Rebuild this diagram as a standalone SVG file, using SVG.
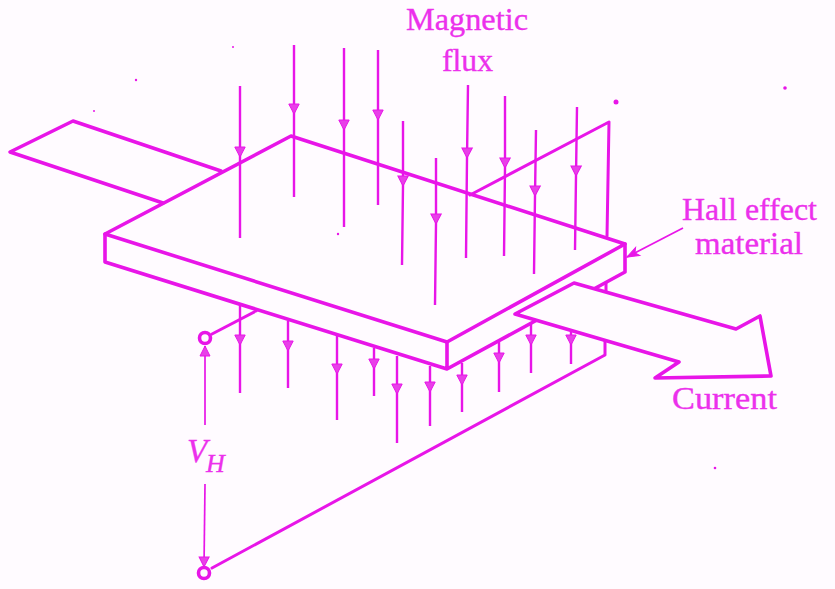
<svg xmlns="http://www.w3.org/2000/svg" width="835" height="589" viewBox="0 0 835 589">
<style>
.bg{fill:#fffbff}
.thick{fill:none;stroke:#e815e8;stroke-width:3.6;stroke-linejoin:round;stroke-linecap:round}
.mid{fill:none;stroke:#e815e8;stroke-width:3;stroke-linejoin:round;stroke-linecap:round}
.flux{fill:none;stroke:#e815e8;stroke-width:2.4;marker-mid:url(#head)}
.thin{fill:none;stroke:#e815e8;stroke-width:1.7}
.t{fill:#ec30ec;stroke:#ec30ec;stroke-width:.35;font-family:"Liberation Serif",serif;font-size:31px}
.speck{fill:#e815e8}
</style>
<defs>
<marker id="head" markerUnits="userSpaceOnUse" markerWidth="14" markerHeight="14" refX="12" refY="7" orient="auto" overflow="visible">
<path d="M2 1.8 L12 7 L2 12.2 Z" fill="#e840e8" stroke="#e815e8" stroke-width="1"/>
</marker>
<marker id="tipEnd" markerUnits="userSpaceOnUse" markerWidth="14" markerHeight="14" refX="12" refY="7" orient="auto" overflow="visible">
<path d="M2 2 L12 7 L2 12 Z" fill="#e840e8" stroke="#e815e8" stroke-width="1"/>
</marker>
<marker id="leaderHead" markerUnits="userSpaceOnUse" markerWidth="16" markerHeight="14" refX="14" refY="7" orient="auto" overflow="visible">
<path d="M2 2.5 L14 7 L2 11.5 L5 7 Z" fill="#e815e8" stroke="#e815e8" stroke-width="1"/>
</marker>
</defs>
<rect class="bg" width="835" height="589"/>
<g id="specks">
<circle class="speck" cx="616" cy="102" r="2.5"/>
<circle class="speck" cx="785" cy="88" r="1.8"/>
<circle class="speck" cx="136" cy="80" r="1.2"/>
<circle class="speck" cx="233" cy="47" r="1"/>
<circle class="speck" cx="94" cy="111" r="1"/>
<circle class="speck" cx="715" cy="468" r="1.3"/>
<circle class="speck" cx="338" cy="234" r="1.2"/>
</g>
<g id="left-tab"><path class="thick" d="M221 171 L73 121 L10 152 L163 203"/></g>
<g id="back-tab"><path class="mid" d="M470 195 L609 122 L607 236"/></g>
<g id="lower-tab"><path class="mid" d="M605 330 L605 355 L212 568"/><path class="mid" d="M606 283 L606 292"/></g>
<g id="connectors">
<path class="flux" d="M240 86 L240 157 L240 238"/>
<path class="flux" d="M294 45 L294 114 L294 197"/>
<path class="flux" d="M344 48 L344 130 L344 227"/>
<path class="flux" d="M378 50 L378 120 L378 205"/>
<path class="flux" d="M403 121 L403 186 L402 265"/>
<path class="flux" d="M436 158 L436 224 L435 305"/>
<path class="flux" d="M468 85 L467 158 L466 258"/>
<path class="flux" d="M505 96 L505 168 L504 256"/>
<path class="flux" d="M536 130 L535 196 L534 274"/>
<path class="flux" d="M577 107 L576 176 L575 250"/>
<path class="flux" d="M240 305 L240 345 L240 393"/>
<path class="flux" d="M288 321 L288 351 L288 388"/>
<path class="flux" d="M337 336 L337 374 L337 420"/>
<path class="flux" d="M374 348 L374 369 L374 396"/>
<path class="flux" d="M397 356 L397 394 L397 443"/>
<path class="flux" d="M430 366 L430 392 L430 426"/>
<path class="flux" d="M462 363 L462 385 L462 412"/>
<path class="flux" d="M499 342 L499 363 L499 392"/>
<path class="flux" d="M531 322 L531 345 L531 373"/>
<path class="flux" d="M571 332 L571 345 L571 364"/>
<path class="thin" d="M205 425 L205 346" marker-end="url(#tipEnd)"/>
<path class="thin" d="M205 484 L204 567" marker-end="url(#tipEnd)"/>
<path class="thin" d="M683 228 L627 257" marker-end="url(#leaderHead)"/>
<path class="mid" d="M212 334 L256 311"/>
</g>
<g id="plate">
<path class="thick" d="M105 234 L291 136 L625 244 L447 342 Z"/>
<path class="thick" d="M105 234 L105 262 L447 369 L625 272 L625 244 M447 342 L447 369"/>
</g>
<g id="current-arrow">
<path class="thick" style="fill:#fffbff" d="M515 314 L574 283 L736 329 L760 316 L771 376 L655 378 L679 362 Z"/>
</g>
<g id="terminal-top"><circle cx="205" cy="338" r="5.5" fill="#fffbff" stroke="#e815e8" stroke-width="3.6"/></g>
<g id="terminal-bottom"><circle cx="204" cy="573" r="5.5" fill="#fffbff" stroke="#e815e8" stroke-width="3.6"/></g>
<g id="labels">
<text class="t" x="406" y="30" textLength="122" lengthAdjust="spacingAndGlyphs">Magnetic</text>
<text class="t" x="442" y="71" textLength="51" lengthAdjust="spacingAndGlyphs">flux</text>
<text class="t" x="682" y="220" textLength="135" lengthAdjust="spacingAndGlyphs">Hall effect</text>
<text class="t" x="695" y="254" textLength="108" lengthAdjust="spacingAndGlyphs">material</text>
<text class="t" x="672" y="409" textLength="105" lengthAdjust="spacingAndGlyphs">Current</text>
<text class="t" x="187" y="462" font-style="italic" style="font-size:33px">V</text>
<text class="t" x="206" y="472" font-style="italic" style="font-size:26px">H</text>
</g>
</svg>
